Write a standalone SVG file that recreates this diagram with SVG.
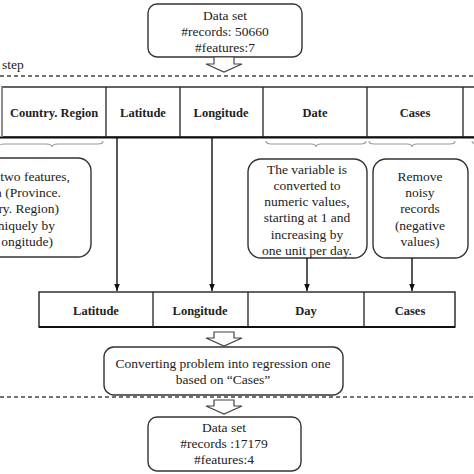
<svg xmlns="http://www.w3.org/2000/svg" width="474" height="474" viewBox="0 0 474 474">
<style>
text{font-family:"Liberation Serif","Times New Roman",serif;fill:#222}
.t{font-size:13.5px;text-anchor:middle}
.te{font-size:13.5px;text-anchor:end}
.h{font-size:12.5px;font-weight:bold;text-anchor:middle}
.box{fill:#fff;stroke:#333;stroke-width:1.4}
.cell{fill:#fff;stroke:#222;stroke-width:1.4}
.dash{stroke:#444;stroke-width:1.3;stroke-dasharray:4 3;fill:none}
.hollow{fill:#fff;stroke:#444;stroke-width:1.2}
.brace{fill:none;stroke:#999;stroke-width:1.1}
.arr{stroke:#111;stroke-width:1.4;fill:none;marker-end:url(#ah)}
</style>
<defs>
<marker id="ah" viewBox="0 0 10 10" refX="10" refY="5" markerWidth="7" markerHeight="7" markerUnits="userSpaceOnUse" orient="auto">
<path d="M0,1 L10,5 L0,9 z" fill="#111"/>
</marker>
</defs>
<rect width="474" height="474" fill="#fff"/>

<text x="2" y="69" style="font-size:13.5px">step</text>
<line class="dash" x1="0" y1="76" x2="474" y2="76"/>
<line class="dash" x1="0" y1="397" x2="474" y2="397"/>

<g id="dataset-top">
<rect class="box" x="148" y="4" width="154" height="53" rx="9"/>
<text class="t" x="225" y="20">Data set</text>
<text class="t" x="225" y="36">#records: 50660</text>
<text class="t" x="225" y="52">#features:7</text>
</g>

<g id="table1">
<rect class="cell" x="2" y="87" width="480" height="50"/>
<line x1="0" y1="137.5" x2="474" y2="137.5" stroke="#111" stroke-width="2"/>
<line x1="2" y1="87" x2="2" y2="137" stroke="#999" stroke-width="1.6"/>
<line x1="106" y1="87" x2="106" y2="137" stroke="#222" stroke-width="1.3"/>
<line x1="180" y1="87" x2="180" y2="137" stroke="#222" stroke-width="1.3"/>
<line x1="263" y1="87" x2="263" y2="137" stroke="#222" stroke-width="1.3"/>
<line x1="367" y1="87" x2="367" y2="137" stroke="#222" stroke-width="1.3"/>
<line x1="463" y1="87" x2="463" y2="137" stroke="#222" stroke-width="1.3"/>
<text class="h" x="54" y="117">Country. Region</text>
<text class="h" x="143" y="117">Latitude</text>
<text class="h" x="221" y="117">Longitude</text>
<text class="h" x="315" y="117">Date</text>
<text class="h" x="415" y="117">Cases</text>
</g>

<g id="braces">
<path class="brace" d="M0,145 Q0,144 5,144 L46,144 Q52,144 52,147 Q52,144 58,144 L98,144 Q103,144 103,141"/>
<path class="brace" d="M266,141 Q266,144 271,144 L311,144 Q316,144 316,147 Q316,144 321,144 L361,144 Q366,144 366,141"/>
<path class="brace" d="M369,141 Q369,144 374,144 L407,144 Q412,144 412,147 Q412,144 417,144 L450,144 Q455,144 455,141"/>
<path class="brace" d="M472,141 Q472,144 477,144"/>
</g>

<g id="note-left">
<rect class="box" x="-30" y="158" width="121" height="99" rx="13"/>
<text class="te" x="70" y="181">two features,</text>
<text class="te" x="61" y="197">a (Province.</text>
<text class="te" x="59" y="213">ry. Region)</text>
<text class="te" x="55" y="230">niquely by</text>
<text class="te" x="53" y="246">ongitude)</text>
</g>

<g id="note-date">
<rect class="box" x="248" y="159" width="119" height="99" rx="13"/>
<text class="t" x="307" y="174">The variable is</text>
<text class="t" x="307" y="190">converted to</text>
<text class="t" x="307" y="206">numeric values,</text>
<text class="t" x="307" y="222">starting at 1 and</text>
<text class="t" x="307" y="239">increasing by</text>
<text class="t" x="307" y="255">one unit per day.</text>
</g>

<g id="note-cases">
<rect class="box" x="373" y="159" width="95" height="99" rx="13"/>
<text class="t" x="420" y="181">Remove</text>
<text class="t" x="420" y="197">noisy</text>
<text class="t" x="420" y="213">records</text>
<text class="t" x="420" y="230">(negative</text>
<text class="t" x="420" y="246">values)</text>
</g>

<g id="table2">
<rect class="cell" x="39" y="292" width="416" height="35"/>
<line x1="39" y1="327" x2="455" y2="327" stroke="#111" stroke-width="1.8"/>
<line x1="153" y1="292" x2="153" y2="327" stroke="#222" stroke-width="1.3"/>
<line x1="248" y1="292" x2="248" y2="327" stroke="#222" stroke-width="1.3"/>
<line x1="364" y1="292" x2="364" y2="327" stroke="#222" stroke-width="1.3"/>
<text class="h" x="96" y="315">Latitude</text>
<text class="h" x="200" y="315">Longitude</text>
<text class="h" x="306" y="315">Day</text>
<text class="h" x="410" y="315">Cases</text>
</g>

<g id="converting">
<rect class="box" x="104" y="347" width="239" height="48" rx="10"/>
<text class="t" x="223" y="368">Converting problem into regression one</text>
<text class="t" x="223" y="384">based on “Cases”</text>
</g>

<g id="dataset-bottom">
<rect class="box" x="148" y="417" width="153" height="54" rx="9"/>
<text class="t" x="224" y="432">Data set</text>
<text class="t" x="224" y="448">#records :17179</text>
<text class="t" x="224" y="464">#features:4</text>
</g>

<g id="connectors">
<polygon class="hollow" points="214,57 234,57 234,64 242,64 224,72 206,64 214,64"/>
<polygon class="hollow" points="214,332 234,332 234,338 242,338 224,346 206,338 214,338"/>
<polygon class="hollow" points="214,400 234,400 234,406 242,406 224,414 206,406 214,406"/>
<line class="arr" x1="117" y1="138" x2="117" y2="291"/>
<line class="arr" x1="212" y1="138" x2="212" y2="291"/>
<line class="arr" x1="307" y1="258" x2="307" y2="291"/>
<line class="arr" x1="412" y1="258" x2="412" y2="291"/>
</g>
</svg>
